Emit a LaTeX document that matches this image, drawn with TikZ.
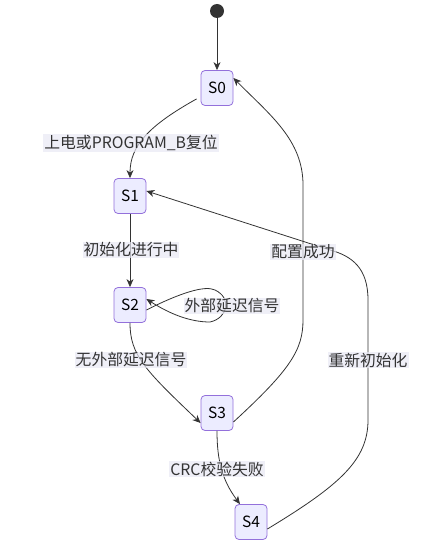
\documentclass[tikz,border=0pt]{standalone}
\usepackage{fontspec}
\setmainfont{Noto Sans CJK SC}
\usetikzlibrary{arrows.meta}
\definecolor{stfill}{HTML}{ECECFF}
\definecolor{stdraw}{HTML}{9370DB}
\definecolor{edge}{HTML}{333333}
\definecolor{lblbg}{HTML}{E8E8F4}
\tikzset{
  state/.style={draw=stdraw, fill=stfill, rounded corners=4pt, line width=0.8pt,
    minimum width=32pt, minimum height=35pt, inner sep=0pt, font=\fontsize{15.5}{18}\selectfont},
  tr/.style={draw=edge, line width=0.8pt, -{Stealth[length=8pt,width=7pt,inset=2.5pt]}},
  lbl/.style={fill=lblbg, fill opacity=0.7, text opacity=1, inner sep=1pt, font=\fontsize{15.8}{18}\selectfont, text=black!80}
}
\begin{document}
\begin{tikzpicture}[x=1pt,y=-1pt]
\useasboundingbox (0,0) rectangle (427,548);
\node[circle, fill=edge, minimum size=14pt, inner sep=0pt] (start) at (217,11) {};
\node[state] (s0) at (217,88) {S0};
\node[state] (s1) at (130,196) {S1};
\node[state] (s2) at (130,305) {S2};
\node[state] (s3) at (217,413) {S3};
\node[state] (s4) at (251,522) {S4};

\draw[tr] (start) -- (s0);
\draw[tr] (s0.south west) ++(-4,-7) coordinate (a0)
  (a0) .. controls (150,125) and (130,145) .. (s1.north);
\draw[tr] (s1) -- (s2);
\draw[tr] ([yshift=-5pt]s2.east) .. controls (180,293) and (205,285) .. (215,290)
  .. controls (232,298) and (228,318) .. (210,322)
  .. controls (190,322) and (170,314) .. ([yshift=6pt]s2.east);
\draw[tr] (s2.south) .. controls (130,355) and (145,370) .. ([yshift=-10pt]s3.west);
\draw[tr] ([yshift=-9pt]s3.east) .. controls (290,370) and (303,350) .. (303,320)
  -- (303,185) .. controls (303,140) and (270,115) .. ([yshift=10pt]s0.east);
\draw[tr] (s3.south) .. controls (217,460) and (222,480) .. ([xshift=-11pt]s4.north);
\draw[tr] ([yshift=-7pt]s4.east) .. controls (340,485) and (368,460) .. (368,420)
  -- (368,300) .. controls (368,268) and (352,256) .. (330,250) -- ([yshift=5pt]s1.east);

\node[lbl] (l1) at (131,143) {上电或PROGRAM\_B复位};
\node[lbl] (l2) at (131,250) {初始化进行中};
\node[lbl] (l3) at (232,306) {外部延迟信号};
\node[lbl] (l4) at (131,360) {无外部延迟信号};
\node[lbl] (l5) at (303,252) {配置成功};
\node[lbl] (l6) at (217,469) {CRC校验失败};
\node[lbl] (l7) at (368,360) {重新初始化};
\end{tikzpicture}
\end{document}
